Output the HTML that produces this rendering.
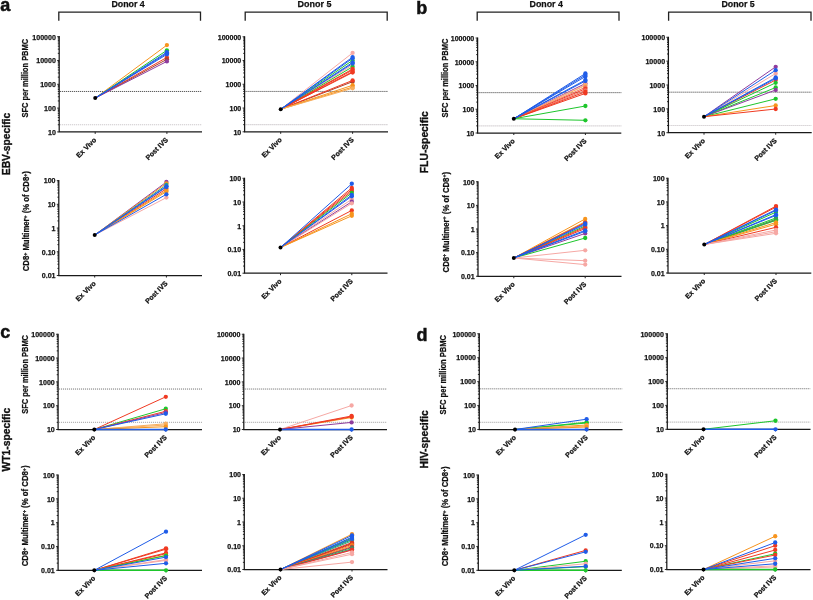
<!DOCTYPE html><html><head><meta charset="utf-8"><style>
html,body{margin:0;padding:0;background:#fff;width:813px;height:600px;overflow:hidden}
svg{display:block} text{font-family:"Liberation Sans", Arial, Helvetica, sans-serif;font-weight:bold;fill:#111;stroke:#111;stroke-width:0.25px}
.tl{font-size:8.1px;text-anchor:end}
.cl{font-size:7.0px;text-anchor:end}
.yl{font-size:8.2px;text-anchor:middle}
.hd{font-size:9.8px;text-anchor:middle}
.pl{font-size:18px;stroke-width:0.5px}
.rl{font-size:11px;text-anchor:middle;stroke-width:0.35px}
</style></head><body>
<svg width="813" height="600" viewBox="0 0 813 600">
<line x1="60.2" y1="91.46" x2="202" y2="91.46" stroke="#333" stroke-width="1" stroke-dasharray="1 1"/>
<line x1="60.2" y1="124.74" x2="202" y2="124.74" stroke="#c2bcc0" stroke-width="1.2" stroke-dasharray="1 1"/>
<path d="M59.2 36.1V131.9H202" fill="none" stroke="#1a1a1a" stroke-width="1.25"/>
<path d="M57.2 36.7H59.2M57.8 53.34H59.2M57.8 49.14H59.2M57.8 46.17H59.2M57.8 43.86H59.2M57.8 41.98H59.2M57.8 40.39H59.2M57.8 39.01H59.2M57.8 37.79H59.2M57.2 60.5H59.2M57.8 77.14H59.2M57.8 72.94H59.2M57.8 69.97H59.2M57.8 67.66H59.2M57.8 65.78H59.2M57.8 64.19H59.2M57.8 62.81H59.2M57.8 61.59H59.2M57.2 84.3H59.2M57.8 100.94H59.2M57.8 96.74H59.2M57.8 93.77H59.2M57.8 91.46H59.2M57.8 89.58H59.2M57.8 87.99H59.2M57.8 86.61H59.2M57.8 85.39H59.2M57.2 108.1H59.2M57.8 124.74H59.2M57.8 120.54H59.2M57.8 117.57H59.2M57.8 115.26H59.2M57.8 113.38H59.2M57.8 111.79H59.2M57.8 110.41H59.2M57.8 109.19H59.2M57.2 131.9H59.2" stroke="#111" stroke-width="0.9"/>
<path d="M95.2 131.9v2M166.9 131.9v2" stroke="#222" stroke-width="1"/>
<line x1="95.2" y1="98.1" x2="166.9" y2="45.1" stroke="#F7941D" stroke-width="1"/>
<line x1="95.2" y1="98.1" x2="166.9" y2="50.3" stroke="#1EC62C" stroke-width="1"/>
<line x1="95.2" y1="98.1" x2="166.9" y2="57.4" stroke="#F03A22" stroke-width="1"/>
<line x1="95.2" y1="98.1" x2="166.9" y2="59.3" stroke="#A8402C" stroke-width="1"/>
<line x1="95.2" y1="98.1" x2="166.9" y2="61.4" stroke="#8E3C9E" stroke-width="1"/>
<line x1="95.2" y1="98.1" x2="166.9" y2="52.2" stroke="#1F5CE8" stroke-width="1"/>
<line x1="95.2" y1="98.1" x2="166.9" y2="53.3" stroke="#1F5CE8" stroke-width="1"/>
<line x1="95.2" y1="98.1" x2="166.9" y2="54.4" stroke="#1F5CE8" stroke-width="1"/>
<circle cx="166.9" cy="45.1" r="2.15" fill="#F7941D"/>
<circle cx="166.9" cy="50.3" r="2.15" fill="#1EC62C"/>
<circle cx="166.9" cy="57.4" r="2.15" fill="#F03A22"/>
<circle cx="166.9" cy="59.3" r="2.15" fill="#A8402C"/>
<circle cx="166.9" cy="61.4" r="2.15" fill="#8E3C9E"/>
<circle cx="166.9" cy="52.2" r="2.15" fill="#1F5CE8"/>
<circle cx="166.9" cy="53.3" r="2.15" fill="#1F5CE8"/>
<circle cx="166.9" cy="54.4" r="2.15" fill="#1F5CE8"/>
<circle cx="95.2" cy="98.1" r="2.0" fill="#000"/>
<text x="55.9" y="39.5" class="tl" textLength="23.58" lengthAdjust="spacingAndGlyphs">100000</text>
<text x="55.9" y="63.3" class="tl" textLength="19.65" lengthAdjust="spacingAndGlyphs">10000</text>
<text x="55.9" y="87.1" class="tl" textLength="15.72" lengthAdjust="spacingAndGlyphs">1000</text>
<text x="55.9" y="110.9" class="tl" textLength="11.79" lengthAdjust="spacingAndGlyphs">100</text>
<text x="55.9" y="134.7" class="tl" textLength="7.86" lengthAdjust="spacingAndGlyphs">10</text>
<text transform="translate(96.8 140.4) rotate(-45)" class="cl">Ex Vivo</text>
<text transform="translate(168.5 140.4) rotate(-45)" class="cl">Post IVS</text>
<line x1="245.6" y1="91.43" x2="388" y2="91.43" stroke="#333" stroke-width="1" stroke-dasharray="1 1"/>
<line x1="245.6" y1="124.65" x2="388" y2="124.65" stroke="#c2bcc0" stroke-width="1.2" stroke-dasharray="1 1"/>
<path d="M244.6 36.15V131.8H388" fill="none" stroke="#1a1a1a" stroke-width="1.25"/>
<path d="M242.6 36.75H244.6M243.2 53.36H244.6M243.2 49.17H244.6M243.2 46.21H244.6M243.2 43.9H244.6M243.2 42.02H244.6M243.2 40.43H244.6M243.2 39.05H244.6M243.2 37.84H244.6M242.6 60.51H244.6M243.2 77.12H244.6M243.2 72.94H244.6M243.2 69.97H244.6M243.2 67.67H244.6M243.2 65.78H244.6M243.2 64.19H244.6M243.2 62.82H244.6M243.2 61.6H244.6M242.6 84.28H244.6M243.2 100.88H244.6M243.2 96.7H244.6M243.2 93.73H244.6M243.2 91.43H244.6M243.2 89.55H244.6M243.2 87.96H244.6M243.2 86.58H244.6M243.2 85.36H244.6M242.6 108.04H244.6M243.2 124.65H244.6M243.2 120.46H244.6M243.2 117.49H244.6M243.2 115.19H244.6M243.2 113.31H244.6M243.2 111.72H244.6M243.2 110.34H244.6M243.2 109.12H244.6M242.6 131.8H244.6" stroke="#111" stroke-width="0.9"/>
<path d="M280.7 131.8v2M352.6 131.8v2" stroke="#222" stroke-width="1"/>
<line x1="280.7" y1="109.25" x2="352.6" y2="52.9" stroke="#F6A8A4" stroke-width="1"/>
<line x1="280.7" y1="109.25" x2="352.6" y2="60.4" stroke="#1EC62C" stroke-width="1"/>
<line x1="280.7" y1="109.25" x2="352.6" y2="65" stroke="#F6A8A4" stroke-width="1"/>
<line x1="280.7" y1="109.25" x2="352.6" y2="66.8" stroke="#1EC62C" stroke-width="1"/>
<line x1="280.7" y1="109.25" x2="352.6" y2="69" stroke="#F03A22" stroke-width="1"/>
<line x1="280.7" y1="109.25" x2="352.6" y2="70" stroke="#F03A22" stroke-width="1"/>
<line x1="280.7" y1="109.25" x2="352.6" y2="71.7" stroke="#F03A22" stroke-width="1"/>
<line x1="280.7" y1="109.25" x2="352.6" y2="72.5" stroke="#F03A22" stroke-width="1"/>
<line x1="280.7" y1="109.25" x2="352.6" y2="81.7" stroke="#A8402C" stroke-width="1"/>
<line x1="280.7" y1="109.25" x2="352.6" y2="80.4" stroke="#F03A22" stroke-width="1"/>
<line x1="280.7" y1="109.25" x2="352.6" y2="85.25" stroke="#F7941D" stroke-width="1"/>
<line x1="280.7" y1="109.25" x2="352.6" y2="87.1" stroke="#F7941D" stroke-width="1"/>
<line x1="280.7" y1="109.25" x2="352.6" y2="88.3" stroke="#F8AE5E" stroke-width="1"/>
<line x1="280.7" y1="109.25" x2="352.6" y2="57.1" stroke="#1F5CE8" stroke-width="1"/>
<line x1="280.7" y1="109.25" x2="352.6" y2="58.3" stroke="#1F5CE8" stroke-width="1"/>
<line x1="280.7" y1="109.25" x2="352.6" y2="62.5" stroke="#1F5CE8" stroke-width="1"/>
<line x1="280.7" y1="109.25" x2="352.6" y2="63.5" stroke="#1F5CE8" stroke-width="1"/>
<circle cx="352.6" cy="52.9" r="2.15" fill="#F6A8A4"/>
<circle cx="352.6" cy="60.4" r="2.15" fill="#1EC62C"/>
<circle cx="352.6" cy="65" r="2.15" fill="#F6A8A4"/>
<circle cx="352.6" cy="66.8" r="2.15" fill="#1EC62C"/>
<circle cx="352.6" cy="69" r="2.15" fill="#F03A22"/>
<circle cx="352.6" cy="70" r="2.15" fill="#F03A22"/>
<circle cx="352.6" cy="71.7" r="2.15" fill="#F03A22"/>
<circle cx="352.6" cy="72.5" r="2.15" fill="#F03A22"/>
<circle cx="352.6" cy="81.7" r="2.15" fill="#A8402C"/>
<circle cx="352.6" cy="80.4" r="2.15" fill="#F03A22"/>
<circle cx="352.6" cy="85.25" r="2.15" fill="#F7941D"/>
<circle cx="352.6" cy="87.1" r="2.15" fill="#F7941D"/>
<circle cx="352.6" cy="88.3" r="2.15" fill="#F8AE5E"/>
<circle cx="352.6" cy="57.1" r="2.15" fill="#1F5CE8"/>
<circle cx="352.6" cy="58.3" r="2.15" fill="#1F5CE8"/>
<circle cx="352.6" cy="62.5" r="2.15" fill="#1F5CE8"/>
<circle cx="352.6" cy="63.5" r="2.15" fill="#1F5CE8"/>
<circle cx="280.7" cy="109.25" r="2.0" fill="#000"/>
<text x="241.3" y="39.55" class="tl" textLength="23.58" lengthAdjust="spacingAndGlyphs">100000</text>
<text x="241.3" y="63.31" class="tl" textLength="19.65" lengthAdjust="spacingAndGlyphs">10000</text>
<text x="241.3" y="87.08" class="tl" textLength="15.72" lengthAdjust="spacingAndGlyphs">1000</text>
<text x="241.3" y="110.84" class="tl" textLength="11.79" lengthAdjust="spacingAndGlyphs">100</text>
<text x="241.3" y="134.6" class="tl" textLength="7.86" lengthAdjust="spacingAndGlyphs">10</text>
<text transform="translate(282.3 140.3) rotate(-45)" class="cl">Ex Vivo</text>
<text transform="translate(354.2 140.3) rotate(-45)" class="cl">Post IVS</text>
<line x1="478.6" y1="92.65" x2="621.3" y2="92.65" stroke="#333" stroke-width="1" stroke-dasharray="1 1"/>
<line x1="478.6" y1="125.85" x2="621.3" y2="125.85" stroke="#c2bcc0" stroke-width="1.2" stroke-dasharray="1 1"/>
<path d="M477.6 37.4V133H621.3" fill="none" stroke="#1a1a1a" stroke-width="1.25"/>
<path d="M475.6 38H477.6M476.2 54.6H477.6M476.2 50.42H477.6M476.2 47.45H477.6M476.2 45.15H477.6M476.2 43.27H477.6M476.2 41.68H477.6M476.2 40.3H477.6M476.2 39.09H477.6M475.6 61.75H477.6M476.2 78.35H477.6M476.2 74.17H477.6M476.2 71.2H477.6M476.2 68.9H477.6M476.2 67.02H477.6M476.2 65.43H477.6M476.2 64.05H477.6M476.2 62.84H477.6M475.6 85.5H477.6M476.2 102.1H477.6M476.2 97.92H477.6M476.2 94.95H477.6M476.2 92.65H477.6M476.2 90.77H477.6M476.2 89.18H477.6M476.2 87.8H477.6M476.2 86.59H477.6M475.6 109.25H477.6M476.2 125.85H477.6M476.2 121.67H477.6M476.2 118.7H477.6M476.2 116.4H477.6M476.2 114.52H477.6M476.2 112.93H477.6M476.2 111.55H477.6M476.2 110.34H477.6M475.6 133H477.6" stroke="#111" stroke-width="0.9"/>
<path d="M513.8 133v2M585.4 133v2" stroke="#222" stroke-width="1"/>
<line x1="513.8" y1="118.75" x2="585.4" y2="83.5" stroke="#8E3C9E" stroke-width="1"/>
<line x1="513.8" y1="118.75" x2="585.4" y2="84.5" stroke="#F6A8A4" stroke-width="1"/>
<line x1="513.8" y1="118.75" x2="585.4" y2="85.5" stroke="#F8AE5E" stroke-width="1"/>
<line x1="513.8" y1="118.75" x2="585.4" y2="87.3" stroke="#F4735E" stroke-width="1"/>
<line x1="513.8" y1="118.75" x2="585.4" y2="88.8" stroke="#F03A22" stroke-width="1"/>
<line x1="513.8" y1="118.75" x2="585.4" y2="90.3" stroke="#F4735E" stroke-width="1"/>
<line x1="513.8" y1="118.75" x2="585.4" y2="91.8" stroke="#F03A22" stroke-width="1"/>
<line x1="513.8" y1="118.75" x2="585.4" y2="93.4" stroke="#F03A22" stroke-width="1"/>
<line x1="513.8" y1="118.75" x2="585.4" y2="106" stroke="#1EC62C" stroke-width="1"/>
<line x1="513.8" y1="118.75" x2="585.4" y2="120.3" stroke="#1EC62C" stroke-width="1"/>
<line x1="513.8" y1="118.75" x2="585.4" y2="73.5" stroke="#1F5CE8" stroke-width="1"/>
<line x1="513.8" y1="118.75" x2="585.4" y2="75" stroke="#1F5CE8" stroke-width="1"/>
<line x1="513.8" y1="118.75" x2="585.4" y2="76.5" stroke="#1F5CE8" stroke-width="1"/>
<line x1="513.8" y1="118.75" x2="585.4" y2="80" stroke="#1F5CE8" stroke-width="1"/>
<line x1="513.8" y1="118.75" x2="585.4" y2="81" stroke="#1F5CE8" stroke-width="1"/>
<circle cx="585.4" cy="83.5" r="2.15" fill="#8E3C9E"/>
<circle cx="585.4" cy="84.5" r="2.15" fill="#F6A8A4"/>
<circle cx="585.4" cy="85.5" r="2.15" fill="#F8AE5E"/>
<circle cx="585.4" cy="87.3" r="2.15" fill="#F4735E"/>
<circle cx="585.4" cy="88.8" r="2.15" fill="#F03A22"/>
<circle cx="585.4" cy="90.3" r="2.15" fill="#F4735E"/>
<circle cx="585.4" cy="91.8" r="2.15" fill="#F03A22"/>
<circle cx="585.4" cy="93.4" r="2.15" fill="#F03A22"/>
<circle cx="585.4" cy="106" r="2.15" fill="#1EC62C"/>
<circle cx="585.4" cy="120.3" r="2.15" fill="#1EC62C"/>
<circle cx="585.4" cy="73.5" r="2.15" fill="#1F5CE8"/>
<circle cx="585.4" cy="75" r="2.15" fill="#1F5CE8"/>
<circle cx="585.4" cy="76.5" r="2.15" fill="#1F5CE8"/>
<circle cx="585.4" cy="80" r="2.15" fill="#1F5CE8"/>
<circle cx="585.4" cy="81" r="2.15" fill="#1F5CE8"/>
<circle cx="513.8" cy="118.75" r="2.0" fill="#000"/>
<text x="474.3" y="40.8" class="tl" textLength="23.58" lengthAdjust="spacingAndGlyphs">100000</text>
<text x="474.3" y="64.55" class="tl" textLength="19.65" lengthAdjust="spacingAndGlyphs">10000</text>
<text x="474.3" y="88.3" class="tl" textLength="15.72" lengthAdjust="spacingAndGlyphs">1000</text>
<text x="474.3" y="112.05" class="tl" textLength="11.79" lengthAdjust="spacingAndGlyphs">100</text>
<text x="474.3" y="135.8" class="tl" textLength="7.86" lengthAdjust="spacingAndGlyphs">10</text>
<text transform="translate(515.4 141.5) rotate(-45)" class="cl">Ex Vivo</text>
<text transform="translate(587 141.5) rotate(-45)" class="cl">Post IVS</text>
<line x1="669.4" y1="92.18" x2="811.7" y2="92.18" stroke="#333" stroke-width="1" stroke-dasharray="1 1"/>
<line x1="669.4" y1="125.52" x2="811.7" y2="125.52" stroke="#c2bcc0" stroke-width="1.2" stroke-dasharray="1 1"/>
<path d="M668.4 36.7V132.7H811.7" fill="none" stroke="#1a1a1a" stroke-width="1.25"/>
<path d="M666.4 37.3H668.4M667 53.97H668.4M667 49.77H668.4M667 46.79H668.4M667 44.48H668.4M667 42.59H668.4M667 40.99H668.4M667 39.61H668.4M667 38.39H668.4M666.4 61.15H668.4M667 77.82H668.4M667 73.62H668.4M667 70.64H668.4M667 68.33H668.4M667 66.44H668.4M667 64.84H668.4M667 63.46H668.4M667 62.24H668.4M666.4 85H668.4M667 101.67H668.4M667 97.47H668.4M667 94.49H668.4M667 92.18H668.4M667 90.29H668.4M667 88.69H668.4M667 87.31H668.4M667 86.09H668.4M666.4 108.85H668.4M667 125.52H668.4M667 121.32H668.4M667 118.34H668.4M667 116.03H668.4M667 114.14H668.4M667 112.54H668.4M667 111.16H668.4M667 109.94H668.4M666.4 132.7H668.4" stroke="#111" stroke-width="0.9"/>
<path d="M704 132.7v2M775.7 132.7v2" stroke="#222" stroke-width="1"/>
<line x1="704" y1="116.7" x2="775.7" y2="66.8" stroke="#8E3C9E" stroke-width="1"/>
<line x1="704" y1="116.7" x2="775.7" y2="73.5" stroke="#F6A8A4" stroke-width="1"/>
<line x1="704" y1="116.7" x2="775.7" y2="80" stroke="#F03A22" stroke-width="1"/>
<line x1="704" y1="116.7" x2="775.7" y2="82.8" stroke="#1EC62C" stroke-width="1"/>
<line x1="704" y1="116.7" x2="775.7" y2="87.5" stroke="#1EC62C" stroke-width="1"/>
<line x1="704" y1="116.7" x2="775.7" y2="90" stroke="#8E3C9E" stroke-width="1"/>
<line x1="704" y1="116.7" x2="775.7" y2="98.8" stroke="#1EC62C" stroke-width="1"/>
<line x1="704" y1="116.7" x2="775.7" y2="105.5" stroke="#F7941D" stroke-width="1"/>
<line x1="704" y1="116.7" x2="775.7" y2="109" stroke="#F03A22" stroke-width="1"/>
<line x1="704" y1="116.7" x2="775.7" y2="70.2" stroke="#1F5CE8" stroke-width="1"/>
<line x1="704" y1="116.7" x2="775.7" y2="77.5" stroke="#1F5CE8" stroke-width="1"/>
<line x1="704" y1="116.7" x2="775.7" y2="78.5" stroke="#1F5CE8" stroke-width="1"/>
<circle cx="775.7" cy="66.8" r="2.15" fill="#8E3C9E"/>
<circle cx="775.7" cy="73.5" r="2.15" fill="#F6A8A4"/>
<circle cx="775.7" cy="80" r="2.15" fill="#F03A22"/>
<circle cx="775.7" cy="82.8" r="2.15" fill="#1EC62C"/>
<circle cx="775.7" cy="87.5" r="2.15" fill="#1EC62C"/>
<circle cx="775.7" cy="90" r="2.15" fill="#8E3C9E"/>
<circle cx="775.7" cy="98.8" r="2.15" fill="#1EC62C"/>
<circle cx="775.7" cy="105.5" r="2.15" fill="#F7941D"/>
<circle cx="775.7" cy="109" r="2.15" fill="#F03A22"/>
<circle cx="775.7" cy="70.2" r="2.15" fill="#1F5CE8"/>
<circle cx="775.7" cy="77.5" r="2.15" fill="#1F5CE8"/>
<circle cx="775.7" cy="78.5" r="2.15" fill="#1F5CE8"/>
<circle cx="704" cy="116.7" r="2.0" fill="#000"/>
<text x="665.1" y="40.1" class="tl" textLength="23.58" lengthAdjust="spacingAndGlyphs">100000</text>
<text x="665.1" y="63.95" class="tl" textLength="19.65" lengthAdjust="spacingAndGlyphs">10000</text>
<text x="665.1" y="87.8" class="tl" textLength="15.72" lengthAdjust="spacingAndGlyphs">1000</text>
<text x="665.1" y="111.65" class="tl" textLength="11.79" lengthAdjust="spacingAndGlyphs">100</text>
<text x="665.1" y="135.5" class="tl" textLength="7.86" lengthAdjust="spacingAndGlyphs">10</text>
<text transform="translate(705.6 141.2) rotate(-45)" class="cl">Ex Vivo</text>
<text transform="translate(777.3 141.2) rotate(-45)" class="cl">Post IVS</text>
<path d="M58.8 180V275.5H202" fill="none" stroke="#1a1a1a" stroke-width="1.25"/>
<path d="M56.8 180.6H58.8M57.4 197.18H58.8M57.4 193.01H58.8M57.4 190.04H58.8M57.4 187.74H58.8M57.4 185.86H58.8M57.4 184.28H58.8M57.4 182.9H58.8M57.4 181.69H58.8M56.8 204.32H58.8M57.4 220.91H58.8M57.4 216.73H58.8M57.4 213.77H58.8M57.4 211.47H58.8M57.4 209.59H58.8M57.4 208H58.8M57.4 206.62H58.8M57.4 205.41H58.8M56.8 228.05H58.8M57.4 244.63H58.8M57.4 240.46H58.8M57.4 237.49H58.8M57.4 235.19H58.8M57.4 233.31H58.8M57.4 231.73H58.8M57.4 230.35H58.8M57.4 229.14H58.8M56.8 251.78H58.8M57.4 268.36H58.8M57.4 264.18H58.8M57.4 261.22H58.8M57.4 258.92H58.8M57.4 257.04H58.8M57.4 255.45H58.8M57.4 254.07H58.8M57.4 252.86H58.8M56.8 275.5H58.8" stroke="#111" stroke-width="0.9"/>
<path d="M94.7 275.5v2M166.4 275.5v2" stroke="#222" stroke-width="1"/>
<line x1="94.7" y1="235" x2="166.4" y2="182" stroke="#8E3C9E" stroke-width="1"/>
<line x1="94.7" y1="235" x2="166.4" y2="183.3" stroke="#F7941D" stroke-width="1"/>
<line x1="94.7" y1="235" x2="166.4" y2="185" stroke="#2A9D8F" stroke-width="1"/>
<line x1="94.7" y1="235" x2="166.4" y2="188.8" stroke="#F03A22" stroke-width="1"/>
<line x1="94.7" y1="235" x2="166.4" y2="190.4" stroke="#F7941D" stroke-width="1"/>
<line x1="94.7" y1="235" x2="166.4" y2="191.7" stroke="#F7941D" stroke-width="1"/>
<line x1="94.7" y1="235" x2="166.4" y2="197.6" stroke="#F6A8A4" stroke-width="1"/>
<line x1="94.7" y1="235" x2="166.4" y2="186.3" stroke="#1F5CE8" stroke-width="1"/>
<line x1="94.7" y1="235" x2="166.4" y2="187.1" stroke="#1F5CE8" stroke-width="1"/>
<line x1="94.7" y1="235" x2="166.4" y2="194.3" stroke="#1F5CE8" stroke-width="1"/>
<circle cx="166.4" cy="182" r="2.15" fill="#8E3C9E"/>
<circle cx="166.4" cy="183.3" r="2.15" fill="#F7941D"/>
<circle cx="166.4" cy="185" r="2.15" fill="#2A9D8F"/>
<circle cx="166.4" cy="188.8" r="2.15" fill="#F03A22"/>
<circle cx="166.4" cy="190.4" r="2.15" fill="#F7941D"/>
<circle cx="166.4" cy="191.7" r="2.15" fill="#F7941D"/>
<circle cx="166.4" cy="197.6" r="2.15" fill="#F6A8A4"/>
<circle cx="166.4" cy="186.3" r="2.15" fill="#1F5CE8"/>
<circle cx="166.4" cy="187.1" r="2.15" fill="#1F5CE8"/>
<circle cx="166.4" cy="194.3" r="2.15" fill="#1F5CE8"/>
<circle cx="94.7" cy="235" r="2.0" fill="#000"/>
<text x="55.5" y="183.4" class="tl" textLength="11.79" lengthAdjust="spacingAndGlyphs">100</text>
<text x="55.5" y="207.12" class="tl" textLength="7.86" lengthAdjust="spacingAndGlyphs">10</text>
<text x="55.5" y="230.85" class="tl" textLength="3.93" lengthAdjust="spacingAndGlyphs">1</text>
<text x="55.5" y="254.58" class="tl" textLength="13.76" lengthAdjust="spacingAndGlyphs">0.10</text>
<text x="55.5" y="278.3" class="tl" textLength="13.76" lengthAdjust="spacingAndGlyphs">0.01</text>
<text transform="translate(96.3 284) rotate(-45)" class="cl">Ex Vivo</text>
<text transform="translate(168 284) rotate(-45)" class="cl">Post IVS</text>
<path d="M244.5 177.7V273.2H387.5" fill="none" stroke="#1a1a1a" stroke-width="1.25"/>
<path d="M242.5 178.3H244.5M243.1 194.88H244.5M243.1 190.71H244.5M243.1 187.74H244.5M243.1 185.44H244.5M243.1 183.56H244.5M243.1 181.98H244.5M243.1 180.6H244.5M243.1 179.39H244.5M242.5 202.03H244.5M243.1 218.61H244.5M243.1 214.43H244.5M243.1 211.47H244.5M243.1 209.17H244.5M243.1 207.29H244.5M243.1 205.7H244.5M243.1 204.32H244.5M243.1 203.11H244.5M242.5 225.75H244.5M243.1 242.33H244.5M243.1 238.16H244.5M243.1 235.19H244.5M243.1 232.89H244.5M243.1 231.01H244.5M243.1 229.43H244.5M243.1 228.05H244.5M243.1 226.84H244.5M242.5 249.47H244.5M243.1 266.06H244.5M243.1 261.88H244.5M243.1 258.92H244.5M243.1 256.62H244.5M243.1 254.74H244.5M243.1 253.15H244.5M243.1 251.77H244.5M243.1 250.56H244.5M242.5 273.2H244.5" stroke="#111" stroke-width="0.9"/>
<path d="M280.5 273.2v2M351.8 273.2v2" stroke="#222" stroke-width="1"/>
<line x1="280.5" y1="247.5" x2="351.8" y2="187.9" stroke="#F03A22" stroke-width="1"/>
<line x1="280.5" y1="247.5" x2="351.8" y2="189.6" stroke="#F03A22" stroke-width="1"/>
<line x1="280.5" y1="247.5" x2="351.8" y2="191.25" stroke="#F03A22" stroke-width="1"/>
<line x1="280.5" y1="247.5" x2="351.8" y2="192.9" stroke="#1EC62C" stroke-width="1"/>
<line x1="280.5" y1="247.5" x2="351.8" y2="199.2" stroke="#F6A8A4" stroke-width="1"/>
<line x1="280.5" y1="247.5" x2="351.8" y2="201.7" stroke="#8E3C9E" stroke-width="1"/>
<line x1="280.5" y1="247.5" x2="351.8" y2="203.3" stroke="#F6A8A4" stroke-width="1"/>
<line x1="280.5" y1="247.5" x2="351.8" y2="210.4" stroke="#F03A22" stroke-width="1"/>
<line x1="280.5" y1="247.5" x2="351.8" y2="213.75" stroke="#F7941D" stroke-width="1"/>
<line x1="280.5" y1="247.5" x2="351.8" y2="215.8" stroke="#F7941D" stroke-width="1"/>
<line x1="280.5" y1="247.5" x2="351.8" y2="183.75" stroke="#1F5CE8" stroke-width="1"/>
<line x1="280.5" y1="247.5" x2="351.8" y2="195" stroke="#1F5CE8" stroke-width="1"/>
<line x1="280.5" y1="247.5" x2="351.8" y2="196.25" stroke="#1F5CE8" stroke-width="1"/>
<circle cx="351.8" cy="187.9" r="2.15" fill="#F03A22"/>
<circle cx="351.8" cy="189.6" r="2.15" fill="#F03A22"/>
<circle cx="351.8" cy="191.25" r="2.15" fill="#F03A22"/>
<circle cx="351.8" cy="192.9" r="2.15" fill="#1EC62C"/>
<circle cx="351.8" cy="199.2" r="2.15" fill="#F6A8A4"/>
<circle cx="351.8" cy="201.7" r="2.15" fill="#8E3C9E"/>
<circle cx="351.8" cy="203.3" r="2.15" fill="#F6A8A4"/>
<circle cx="351.8" cy="210.4" r="2.15" fill="#F03A22"/>
<circle cx="351.8" cy="213.75" r="2.15" fill="#F7941D"/>
<circle cx="351.8" cy="215.8" r="2.15" fill="#F7941D"/>
<circle cx="351.8" cy="183.75" r="2.15" fill="#1F5CE8"/>
<circle cx="351.8" cy="195" r="2.15" fill="#1F5CE8"/>
<circle cx="351.8" cy="196.25" r="2.15" fill="#1F5CE8"/>
<circle cx="280.5" cy="247.5" r="2.0" fill="#000"/>
<text x="241.2" y="181.1" class="tl" textLength="11.79" lengthAdjust="spacingAndGlyphs">100</text>
<text x="241.2" y="204.83" class="tl" textLength="7.86" lengthAdjust="spacingAndGlyphs">10</text>
<text x="241.2" y="228.55" class="tl" textLength="3.93" lengthAdjust="spacingAndGlyphs">1</text>
<text x="241.2" y="252.28" class="tl" textLength="13.76" lengthAdjust="spacingAndGlyphs">0.10</text>
<text x="241.2" y="276" class="tl" textLength="13.76" lengthAdjust="spacingAndGlyphs">0.01</text>
<text transform="translate(282.1 281.7) rotate(-45)" class="cl">Ex Vivo</text>
<text transform="translate(353.4 281.7) rotate(-45)" class="cl">Post IVS</text>
<path d="M478 181.15V276.25H621.5" fill="none" stroke="#1a1a1a" stroke-width="1.25"/>
<path d="M476 181.75H478M476.6 198.26H478M476.6 194.1H478M476.6 191.15H478M476.6 188.86H478M476.6 186.99H478M476.6 185.41H478M476.6 184.04H478M476.6 182.83H478M476 205.38H478M476.6 221.89H478M476.6 217.73H478M476.6 214.78H478M476.6 212.49H478M476.6 210.62H478M476.6 209.03H478M476.6 207.66H478M476.6 206.46H478M476 229H478M476.6 245.51H478M476.6 241.35H478M476.6 238.4H478M476.6 236.11H478M476.6 234.24H478M476.6 232.66H478M476.6 231.29H478M476.6 230.08H478M476 252.62H478M476.6 269.14H478M476.6 264.98H478M476.6 262.03H478M476.6 259.74H478M476.6 257.87H478M476.6 256.28H478M476.6 254.91H478M476.6 253.71H478M476 276.25H478" stroke="#111" stroke-width="0.9"/>
<path d="M513.8 276.25v2M585.2 276.25v2" stroke="#222" stroke-width="1"/>
<line x1="513.8" y1="258" x2="585.2" y2="218.9" stroke="#F7941D" stroke-width="1"/>
<line x1="513.8" y1="258" x2="585.2" y2="221.8" stroke="#F7941D" stroke-width="1"/>
<line x1="513.8" y1="258" x2="585.2" y2="222.6" stroke="#F03A22" stroke-width="1"/>
<line x1="513.8" y1="258" x2="585.2" y2="226" stroke="#1EC62C" stroke-width="1"/>
<line x1="513.8" y1="258" x2="585.2" y2="227.2" stroke="#F03A22" stroke-width="1"/>
<line x1="513.8" y1="258" x2="585.2" y2="228.5" stroke="#F03A22" stroke-width="1"/>
<line x1="513.8" y1="258" x2="585.2" y2="233.4" stroke="#8E3C9E" stroke-width="1"/>
<line x1="513.8" y1="258" x2="585.2" y2="238" stroke="#1EC62C" stroke-width="1"/>
<line x1="513.8" y1="258" x2="585.2" y2="250.3" stroke="#F6A8A4" stroke-width="1"/>
<line x1="513.8" y1="258" x2="585.2" y2="260.7" stroke="#F6A8A4" stroke-width="1"/>
<line x1="513.8" y1="258" x2="585.2" y2="264.6" stroke="#F6A8A4" stroke-width="1"/>
<line x1="513.8" y1="258" x2="585.2" y2="223.5" stroke="#1F5CE8" stroke-width="1"/>
<line x1="513.8" y1="258" x2="585.2" y2="224.6" stroke="#1F5CE8" stroke-width="1"/>
<line x1="513.8" y1="258" x2="585.2" y2="230.3" stroke="#1F5CE8" stroke-width="1"/>
<line x1="513.8" y1="258" x2="585.2" y2="231.3" stroke="#1F5CE8" stroke-width="1"/>
<circle cx="585.2" cy="218.9" r="2.15" fill="#F7941D"/>
<circle cx="585.2" cy="221.8" r="2.15" fill="#F7941D"/>
<circle cx="585.2" cy="222.6" r="2.15" fill="#F03A22"/>
<circle cx="585.2" cy="226" r="2.15" fill="#1EC62C"/>
<circle cx="585.2" cy="227.2" r="2.15" fill="#F03A22"/>
<circle cx="585.2" cy="228.5" r="2.15" fill="#F03A22"/>
<circle cx="585.2" cy="233.4" r="2.15" fill="#8E3C9E"/>
<circle cx="585.2" cy="238" r="2.15" fill="#1EC62C"/>
<circle cx="585.2" cy="250.3" r="2.15" fill="#F6A8A4"/>
<circle cx="585.2" cy="260.7" r="2.15" fill="#F6A8A4"/>
<circle cx="585.2" cy="264.6" r="2.15" fill="#F6A8A4"/>
<circle cx="585.2" cy="223.5" r="2.15" fill="#1F5CE8"/>
<circle cx="585.2" cy="224.6" r="2.15" fill="#1F5CE8"/>
<circle cx="585.2" cy="230.3" r="2.15" fill="#1F5CE8"/>
<circle cx="585.2" cy="231.3" r="2.15" fill="#1F5CE8"/>
<circle cx="513.8" cy="258" r="2.0" fill="#000"/>
<text x="474.7" y="184.55" class="tl" textLength="11.79" lengthAdjust="spacingAndGlyphs">100</text>
<text x="474.7" y="208.18" class="tl" textLength="7.86" lengthAdjust="spacingAndGlyphs">10</text>
<text x="474.7" y="231.8" class="tl" textLength="3.93" lengthAdjust="spacingAndGlyphs">1</text>
<text x="474.7" y="255.43" class="tl" textLength="13.76" lengthAdjust="spacingAndGlyphs">0.10</text>
<text x="474.7" y="279.05" class="tl" textLength="13.76" lengthAdjust="spacingAndGlyphs">0.01</text>
<text transform="translate(515.4 284.75) rotate(-45)" class="cl">Ex Vivo</text>
<text transform="translate(586.8 284.75) rotate(-45)" class="cl">Post IVS</text>
<path d="M668 177.65V273H811.3" fill="none" stroke="#1a1a1a" stroke-width="1.25"/>
<path d="M666 178.25H668M666.6 194.81H668M666.6 190.64H668M666.6 187.68H668M666.6 185.38H668M666.6 183.51H668M666.6 181.92H668M666.6 180.55H668M666.6 179.33H668M666 201.94H668M666.6 218.49H668M666.6 214.32H668M666.6 211.36H668M666.6 209.07H668M666.6 207.19H668M666.6 205.61H668M666.6 204.23H668M666.6 203.02H668M666 225.62H668M666.6 242.18H668M666.6 238.01H668M666.6 235.05H668M666.6 232.76H668M666.6 230.88H668M666.6 229.29H668M666.6 227.92H668M666.6 226.71H668M666 249.31H668M666.6 265.87H668M666.6 261.7H668M666.6 258.74H668M666.6 256.44H668M666.6 254.57H668M666.6 252.98H668M666.6 251.61H668M666.6 250.4H668M666 273H668" stroke="#111" stroke-width="0.9"/>
<path d="M704.25 273v2M776 273v2" stroke="#222" stroke-width="1"/>
<line x1="704.25" y1="244.5" x2="776" y2="206.1" stroke="#F03A22" stroke-width="1"/>
<line x1="704.25" y1="244.5" x2="776" y2="207.1" stroke="#F03A22" stroke-width="1"/>
<line x1="704.25" y1="244.5" x2="776" y2="212.1" stroke="#1EC62C" stroke-width="1"/>
<line x1="704.25" y1="244.5" x2="776" y2="217.9" stroke="#1EC62C" stroke-width="1"/>
<line x1="704.25" y1="244.5" x2="776" y2="219.2" stroke="#1EC62C" stroke-width="1"/>
<line x1="704.25" y1="244.5" x2="776" y2="220" stroke="#8E3C9E" stroke-width="1"/>
<line x1="704.25" y1="244.5" x2="776" y2="220.4" stroke="#1EC62C" stroke-width="1"/>
<line x1="704.25" y1="244.5" x2="776" y2="222.5" stroke="#F7941D" stroke-width="1"/>
<line x1="704.25" y1="244.5" x2="776" y2="224.2" stroke="#F7941D" stroke-width="1"/>
<line x1="704.25" y1="244.5" x2="776" y2="227.3" stroke="#F03A22" stroke-width="1"/>
<line x1="704.25" y1="244.5" x2="776" y2="230" stroke="#F6A8A4" stroke-width="1"/>
<line x1="704.25" y1="244.5" x2="776" y2="231.7" stroke="#F6A8A4" stroke-width="1"/>
<line x1="704.25" y1="244.5" x2="776" y2="233.3" stroke="#F6A8A4" stroke-width="1"/>
<line x1="704.25" y1="244.5" x2="776" y2="209.6" stroke="#1F5CE8" stroke-width="1"/>
<line x1="704.25" y1="244.5" x2="776" y2="210.4" stroke="#1F5CE8" stroke-width="1"/>
<line x1="704.25" y1="244.5" x2="776" y2="214.6" stroke="#1F5CE8" stroke-width="1"/>
<line x1="704.25" y1="244.5" x2="776" y2="215.4" stroke="#1F5CE8" stroke-width="1"/>
<circle cx="776" cy="206.1" r="2.15" fill="#F03A22"/>
<circle cx="776" cy="207.1" r="2.15" fill="#F03A22"/>
<circle cx="776" cy="212.1" r="2.15" fill="#1EC62C"/>
<circle cx="776" cy="217.9" r="2.15" fill="#1EC62C"/>
<circle cx="776" cy="219.2" r="2.15" fill="#1EC62C"/>
<circle cx="776" cy="220" r="2.15" fill="#8E3C9E"/>
<circle cx="776" cy="220.4" r="2.15" fill="#1EC62C"/>
<circle cx="776" cy="222.5" r="2.15" fill="#F7941D"/>
<circle cx="776" cy="224.2" r="2.15" fill="#F7941D"/>
<circle cx="776" cy="227.3" r="2.15" fill="#F03A22"/>
<circle cx="776" cy="230" r="2.15" fill="#F6A8A4"/>
<circle cx="776" cy="231.7" r="2.15" fill="#F6A8A4"/>
<circle cx="776" cy="233.3" r="2.15" fill="#F6A8A4"/>
<circle cx="776" cy="209.6" r="2.15" fill="#1F5CE8"/>
<circle cx="776" cy="210.4" r="2.15" fill="#1F5CE8"/>
<circle cx="776" cy="214.6" r="2.15" fill="#1F5CE8"/>
<circle cx="776" cy="215.4" r="2.15" fill="#1F5CE8"/>
<circle cx="704.25" cy="244.5" r="2.0" fill="#000"/>
<text x="664.7" y="181.05" class="tl" textLength="11.79" lengthAdjust="spacingAndGlyphs">100</text>
<text x="664.7" y="204.74" class="tl" textLength="7.86" lengthAdjust="spacingAndGlyphs">10</text>
<text x="664.7" y="228.43" class="tl" textLength="3.93" lengthAdjust="spacingAndGlyphs">1</text>
<text x="664.7" y="252.11" class="tl" textLength="13.76" lengthAdjust="spacingAndGlyphs">0.10</text>
<text x="664.7" y="275.8" class="tl" textLength="13.76" lengthAdjust="spacingAndGlyphs">0.01</text>
<text transform="translate(705.85 281.5) rotate(-45)" class="cl">Ex Vivo</text>
<text transform="translate(777.6 281.5) rotate(-45)" class="cl">Post IVS</text>
<line x1="59.1" y1="389.04" x2="202" y2="389.04" stroke="#666" stroke-width="1" stroke-dasharray="1 1"/>
<line x1="59.1" y1="422.33" x2="202" y2="422.33" stroke="#b0b0b0" stroke-width="1.2" stroke-dasharray="1 1"/>
<path d="M58.1 333.65V429.5H202" fill="none" stroke="#1a1a1a" stroke-width="1.25"/>
<path d="M56.1 334.25H58.1M56.7 350.89H58.1M56.7 346.7H58.1M56.7 343.73H58.1M56.7 341.42H58.1M56.7 339.53H58.1M56.7 337.94H58.1M56.7 336.56H58.1M56.7 335.34H58.1M56.1 358.06H58.1M56.7 374.71H58.1M56.7 370.51H58.1M56.7 367.54H58.1M56.7 365.23H58.1M56.7 363.35H58.1M56.7 361.75H58.1M56.7 360.37H58.1M56.7 359.15H58.1M56.1 381.88H58.1M56.7 398.52H58.1M56.7 394.33H58.1M56.7 391.35H58.1M56.7 389.04H58.1M56.7 387.16H58.1M56.7 385.56H58.1M56.7 384.18H58.1M56.7 382.96H58.1M56.1 405.69H58.1M56.7 422.33H58.1M56.7 418.14H58.1M56.7 415.16H58.1M56.7 412.86H58.1M56.7 410.97H58.1M56.7 409.38H58.1M56.7 408H58.1M56.7 406.78H58.1M56.1 429.5H58.1" stroke="#111" stroke-width="0.9"/>
<path d="M94.3 429.5v2M165.8 429.5v2" stroke="#222" stroke-width="1"/>
<line x1="94.3" y1="429.5" x2="165.8" y2="396.8" stroke="#F03A22" stroke-width="1"/>
<line x1="94.3" y1="429.5" x2="165.8" y2="408.75" stroke="#1EC62C" stroke-width="1"/>
<line x1="94.3" y1="429.5" x2="165.8" y2="411.25" stroke="#F03A22" stroke-width="1"/>
<line x1="94.3" y1="429.5" x2="165.8" y2="412.5" stroke="#8E3C9E" stroke-width="1"/>
<line x1="94.3" y1="429.5" x2="165.8" y2="423.75" stroke="#F8AE5E" stroke-width="1"/>
<line x1="94.3" y1="429.5" x2="165.8" y2="425" stroke="#F8AE5E" stroke-width="1"/>
<line x1="94.3" y1="429.5" x2="165.8" y2="426.7" stroke="#F7941D" stroke-width="1"/>
<line x1="94.3" y1="429.5" x2="165.8" y2="413.75" stroke="#1F5CE8" stroke-width="1"/>
<line x1="94.3" y1="429.5" x2="165.8" y2="429.5" stroke="#1F5CE8" stroke-width="1.5"/>
<circle cx="165.8" cy="396.8" r="2.15" fill="#F03A22"/>
<circle cx="165.8" cy="408.75" r="2.15" fill="#1EC62C"/>
<circle cx="165.8" cy="411.25" r="2.15" fill="#F03A22"/>
<circle cx="165.8" cy="412.5" r="2.15" fill="#8E3C9E"/>
<circle cx="165.8" cy="423.75" r="2.15" fill="#F8AE5E"/>
<circle cx="165.8" cy="425" r="2.15" fill="#F8AE5E"/>
<circle cx="165.8" cy="426.7" r="2.15" fill="#F7941D"/>
<circle cx="165.8" cy="413.75" r="2.15" fill="#1F5CE8"/>
<circle cx="165.8" cy="429.5" r="2.15" fill="#1F5CE8"/>
<circle cx="94.3" cy="429.5" r="2.0" fill="#000"/>
<text x="54.8" y="337.05" class="tl" textLength="23.58" lengthAdjust="spacingAndGlyphs">100000</text>
<text x="54.8" y="360.86" class="tl" textLength="19.65" lengthAdjust="spacingAndGlyphs">10000</text>
<text x="54.8" y="384.68" class="tl" textLength="15.72" lengthAdjust="spacingAndGlyphs">1000</text>
<text x="54.8" y="408.49" class="tl" textLength="11.79" lengthAdjust="spacingAndGlyphs">100</text>
<text x="54.8" y="432.3" class="tl" textLength="7.86" lengthAdjust="spacingAndGlyphs">10</text>
<text transform="translate(95.9 438) rotate(-45)" class="cl">Ex Vivo</text>
<text transform="translate(167.4 438) rotate(-45)" class="cl">Post IVS</text>
<line x1="244.8" y1="389.04" x2="387" y2="389.04" stroke="#666" stroke-width="1" stroke-dasharray="1 1"/>
<line x1="244.8" y1="422.33" x2="387" y2="422.33" stroke="#b0b0b0" stroke-width="1.2" stroke-dasharray="1 1"/>
<path d="M243.8 333.65V429.5H387" fill="none" stroke="#1a1a1a" stroke-width="1.25"/>
<path d="M241.8 334.25H243.8M242.4 350.89H243.8M242.4 346.7H243.8M242.4 343.73H243.8M242.4 341.42H243.8M242.4 339.53H243.8M242.4 337.94H243.8M242.4 336.56H243.8M242.4 335.34H243.8M241.8 358.06H243.8M242.4 374.71H243.8M242.4 370.51H243.8M242.4 367.54H243.8M242.4 365.23H243.8M242.4 363.35H243.8M242.4 361.75H243.8M242.4 360.37H243.8M242.4 359.15H243.8M241.8 381.88H243.8M242.4 398.52H243.8M242.4 394.33H243.8M242.4 391.35H243.8M242.4 389.04H243.8M242.4 387.16H243.8M242.4 385.56H243.8M242.4 384.18H243.8M242.4 382.96H243.8M241.8 405.69H243.8M242.4 422.33H243.8M242.4 418.14H243.8M242.4 415.16H243.8M242.4 412.86H243.8M242.4 410.97H243.8M242.4 409.38H243.8M242.4 408H243.8M242.4 406.78H243.8M241.8 429.5H243.8" stroke="#111" stroke-width="0.9"/>
<path d="M280 429.5v2M351.6 429.5v2" stroke="#222" stroke-width="1"/>
<line x1="280" y1="429.5" x2="351.6" y2="405.5" stroke="#F6A8A4" stroke-width="1"/>
<line x1="280" y1="429.5" x2="351.6" y2="417.5" stroke="#F7941D" stroke-width="1"/>
<line x1="280" y1="429.5" x2="351.6" y2="416.75" stroke="#F03A22" stroke-width="1"/>
<line x1="280" y1="429.5" x2="351.6" y2="416" stroke="#F03A22" stroke-width="1"/>
<line x1="280" y1="429.5" x2="351.6" y2="422.4" stroke="#8E3C9E" stroke-width="1"/>
<line x1="280" y1="429.5" x2="351.6" y2="429.5" stroke="#1F5CE8" stroke-width="1.5"/>
<circle cx="351.6" cy="405.5" r="2.15" fill="#F6A8A4"/>
<circle cx="351.6" cy="417.5" r="2.15" fill="#F7941D"/>
<circle cx="351.6" cy="416.75" r="2.15" fill="#F03A22"/>
<circle cx="351.6" cy="416" r="2.15" fill="#F03A22"/>
<circle cx="351.6" cy="422.4" r="2.15" fill="#8E3C9E"/>
<circle cx="351.6" cy="429.5" r="2.15" fill="#1F5CE8"/>
<circle cx="280" cy="429.5" r="2.0" fill="#000"/>
<text x="240.5" y="337.05" class="tl" textLength="23.58" lengthAdjust="spacingAndGlyphs">100000</text>
<text x="240.5" y="360.86" class="tl" textLength="19.65" lengthAdjust="spacingAndGlyphs">10000</text>
<text x="240.5" y="384.68" class="tl" textLength="15.72" lengthAdjust="spacingAndGlyphs">1000</text>
<text x="240.5" y="408.49" class="tl" textLength="11.79" lengthAdjust="spacingAndGlyphs">100</text>
<text x="240.5" y="432.3" class="tl" textLength="7.86" lengthAdjust="spacingAndGlyphs">10</text>
<text transform="translate(281.6 438) rotate(-45)" class="cl">Ex Vivo</text>
<text transform="translate(353.2 438) rotate(-45)" class="cl">Post IVS</text>
<path d="M58.1 474.4V570.3H202" fill="none" stroke="#1a1a1a" stroke-width="1.25"/>
<path d="M56.1 475H58.1M56.7 491.65H58.1M56.7 487.46H58.1M56.7 484.48H58.1M56.7 482.17H58.1M56.7 480.29H58.1M56.7 478.69H58.1M56.7 477.31H58.1M56.7 476.09H58.1M56.1 498.82H58.1M56.7 515.48H58.1M56.7 511.28H58.1M56.7 508.31H58.1M56.7 506H58.1M56.7 504.11H58.1M56.7 502.52H58.1M56.7 501.13H58.1M56.7 499.92H58.1M56.1 522.65H58.1M56.7 539.3H58.1M56.7 535.11H58.1M56.7 532.13H58.1M56.7 529.82H58.1M56.7 527.94H58.1M56.7 526.34H58.1M56.7 524.96H58.1M56.7 523.74H58.1M56.1 546.47H58.1M56.7 563.13H58.1M56.7 558.93H58.1M56.7 555.96H58.1M56.7 553.65H58.1M56.7 551.76H58.1M56.7 550.17H58.1M56.7 548.78H58.1M56.7 547.57H58.1M56.1 570.3H58.1" stroke="#111" stroke-width="0.9"/>
<path d="M94.3 570.3v2M166 570.3v2" stroke="#222" stroke-width="1"/>
<line x1="94.3" y1="570.3" x2="166" y2="548.3" stroke="#F03A22" stroke-width="1"/>
<line x1="94.3" y1="570.3" x2="166" y2="549.2" stroke="#F03A22" stroke-width="1"/>
<line x1="94.3" y1="570.3" x2="166" y2="552.9" stroke="#F03A22" stroke-width="1"/>
<line x1="94.3" y1="570.3" x2="166" y2="553.75" stroke="#F03A22" stroke-width="1"/>
<line x1="94.3" y1="570.3" x2="166" y2="555.4" stroke="#F7941D" stroke-width="1"/>
<line x1="94.3" y1="570.3" x2="166" y2="555.6" stroke="#1EC62C" stroke-width="1"/>
<line x1="94.3" y1="570.3" x2="166" y2="559.6" stroke="#F6A8A4" stroke-width="1"/>
<line x1="94.3" y1="570.3" x2="166" y2="560.4" stroke="#F6A8A4" stroke-width="1"/>
<line x1="94.3" y1="570.3" x2="166" y2="570.3" stroke="#1EC62C" stroke-width="1.5"/>
<line x1="94.3" y1="570.3" x2="166" y2="531.7" stroke="#1F5CE8" stroke-width="1"/>
<line x1="94.3" y1="570.3" x2="166" y2="557.1" stroke="#1F5CE8" stroke-width="1"/>
<line x1="94.3" y1="570.3" x2="166" y2="563.3" stroke="#1F5CE8" stroke-width="1"/>
<circle cx="166" cy="548.3" r="2.15" fill="#F03A22"/>
<circle cx="166" cy="549.2" r="2.15" fill="#F03A22"/>
<circle cx="166" cy="552.9" r="2.15" fill="#F03A22"/>
<circle cx="166" cy="553.75" r="2.15" fill="#F03A22"/>
<circle cx="166" cy="555.4" r="2.15" fill="#F7941D"/>
<circle cx="166" cy="555.6" r="2.15" fill="#1EC62C"/>
<circle cx="166" cy="559.6" r="2.15" fill="#F6A8A4"/>
<circle cx="166" cy="560.4" r="2.15" fill="#F6A8A4"/>
<circle cx="166" cy="570.3" r="2.15" fill="#1EC62C"/>
<circle cx="166" cy="531.7" r="2.15" fill="#1F5CE8"/>
<circle cx="166" cy="557.1" r="2.15" fill="#1F5CE8"/>
<circle cx="166" cy="563.3" r="2.15" fill="#1F5CE8"/>
<circle cx="94.3" cy="570.3" r="2.0" fill="#000"/>
<text x="54.8" y="477.8" class="tl" textLength="11.79" lengthAdjust="spacingAndGlyphs">100</text>
<text x="54.8" y="501.62" class="tl" textLength="7.86" lengthAdjust="spacingAndGlyphs">10</text>
<text x="54.8" y="525.45" class="tl" textLength="3.93" lengthAdjust="spacingAndGlyphs">1</text>
<text x="54.8" y="549.27" class="tl" textLength="13.76" lengthAdjust="spacingAndGlyphs">0.10</text>
<text x="54.8" y="573.1" class="tl" textLength="13.76" lengthAdjust="spacingAndGlyphs">0.01</text>
<text transform="translate(95.9 578.8) rotate(-45)" class="cl">Ex Vivo</text>
<text transform="translate(167.6 578.8) rotate(-45)" class="cl">Post IVS</text>
<path d="M244.3 473.9V569.5H387.5" fill="none" stroke="#1a1a1a" stroke-width="1.25"/>
<path d="M242.3 474.5H244.3M242.9 491.1H244.3M242.9 486.92H244.3M242.9 483.95H244.3M242.9 481.65H244.3M242.9 479.77H244.3M242.9 478.18H244.3M242.9 476.8H244.3M242.9 475.59H244.3M242.3 498.25H244.3M242.9 514.85H244.3M242.9 510.67H244.3M242.9 507.7H244.3M242.9 505.4H244.3M242.9 503.52H244.3M242.9 501.93H244.3M242.9 500.55H244.3M242.9 499.34H244.3M242.3 522H244.3M242.9 538.6H244.3M242.9 534.42H244.3M242.9 531.45H244.3M242.9 529.15H244.3M242.9 527.27H244.3M242.9 525.68H244.3M242.9 524.3H244.3M242.9 523.09H244.3M242.3 545.75H244.3M242.9 562.35H244.3M242.9 558.17H244.3M242.9 555.2H244.3M242.9 552.9H244.3M242.9 551.02H244.3M242.9 549.43H244.3M242.9 548.05H244.3M242.9 546.84H244.3M242.3 569.5H244.3" stroke="#111" stroke-width="0.9"/>
<path d="M280.5 569.5v2M352 569.5v2" stroke="#222" stroke-width="1"/>
<line x1="280.5" y1="569.5" x2="352" y2="534.2" stroke="#F7941D" stroke-width="1"/>
<line x1="280.5" y1="569.5" x2="352" y2="537.9" stroke="#1EC62C" stroke-width="1"/>
<line x1="280.5" y1="569.5" x2="352" y2="539.6" stroke="#1EC62C" stroke-width="1"/>
<line x1="280.5" y1="569.5" x2="352" y2="540.8" stroke="#2A9D8F" stroke-width="1"/>
<line x1="280.5" y1="569.5" x2="352" y2="542.5" stroke="#F03A22" stroke-width="1"/>
<line x1="280.5" y1="569.5" x2="352" y2="543.4" stroke="#A8402C" stroke-width="1"/>
<line x1="280.5" y1="569.5" x2="352" y2="544.2" stroke="#F03A22" stroke-width="1"/>
<line x1="280.5" y1="569.5" x2="352" y2="545.4" stroke="#F7941D" stroke-width="1"/>
<line x1="280.5" y1="569.5" x2="352" y2="546.7" stroke="#F03A22" stroke-width="1"/>
<line x1="280.5" y1="569.5" x2="352" y2="547.5" stroke="#666" stroke-width="1"/>
<line x1="280.5" y1="569.5" x2="352" y2="548.75" stroke="#1EC62C" stroke-width="1"/>
<line x1="280.5" y1="569.5" x2="352" y2="549.5" stroke="#8E3C9E" stroke-width="1"/>
<line x1="280.5" y1="569.5" x2="352" y2="550" stroke="#F03A22" stroke-width="1"/>
<line x1="280.5" y1="569.5" x2="352" y2="552.5" stroke="#F6A8A4" stroke-width="1"/>
<line x1="280.5" y1="569.5" x2="352" y2="554.2" stroke="#F6A8A4" stroke-width="1"/>
<line x1="280.5" y1="569.5" x2="352" y2="562.1" stroke="#F6A8A4" stroke-width="1"/>
<line x1="280.5" y1="569.5" x2="352" y2="535.4" stroke="#1F5CE8" stroke-width="1"/>
<line x1="280.5" y1="569.5" x2="352" y2="537.1" stroke="#1F5CE8" stroke-width="1"/>
<line x1="280.5" y1="569.5" x2="352" y2="538.75" stroke="#1F5CE8" stroke-width="1"/>
<circle cx="352" cy="534.2" r="2.15" fill="#F7941D"/>
<circle cx="352" cy="537.9" r="2.15" fill="#1EC62C"/>
<circle cx="352" cy="539.6" r="2.15" fill="#1EC62C"/>
<circle cx="352" cy="540.8" r="2.15" fill="#2A9D8F"/>
<circle cx="352" cy="542.5" r="2.15" fill="#F03A22"/>
<circle cx="352" cy="543.4" r="2.15" fill="#A8402C"/>
<circle cx="352" cy="544.2" r="2.15" fill="#F03A22"/>
<circle cx="352" cy="545.4" r="2.15" fill="#F7941D"/>
<circle cx="352" cy="546.7" r="2.15" fill="#F03A22"/>
<circle cx="352" cy="547.5" r="2.15" fill="#666"/>
<circle cx="352" cy="548.75" r="2.15" fill="#1EC62C"/>
<circle cx="352" cy="549.5" r="2.15" fill="#8E3C9E"/>
<circle cx="352" cy="550" r="2.15" fill="#F03A22"/>
<circle cx="352" cy="552.5" r="2.15" fill="#F6A8A4"/>
<circle cx="352" cy="554.2" r="2.15" fill="#F6A8A4"/>
<circle cx="352" cy="562.1" r="2.15" fill="#F6A8A4"/>
<circle cx="352" cy="535.4" r="2.15" fill="#1F5CE8"/>
<circle cx="352" cy="537.1" r="2.15" fill="#1F5CE8"/>
<circle cx="352" cy="538.75" r="2.15" fill="#1F5CE8"/>
<circle cx="280.5" cy="569.5" r="2.0" fill="#000"/>
<text x="241" y="477.3" class="tl" textLength="11.79" lengthAdjust="spacingAndGlyphs">100</text>
<text x="241" y="501.05" class="tl" textLength="7.86" lengthAdjust="spacingAndGlyphs">10</text>
<text x="241" y="524.8" class="tl" textLength="3.93" lengthAdjust="spacingAndGlyphs">1</text>
<text x="241" y="548.55" class="tl" textLength="13.76" lengthAdjust="spacingAndGlyphs">0.10</text>
<text x="241" y="572.3" class="tl" textLength="13.76" lengthAdjust="spacingAndGlyphs">0.01</text>
<text transform="translate(282.1 578) rotate(-45)" class="cl">Ex Vivo</text>
<text transform="translate(353.6 578) rotate(-45)" class="cl">Post IVS</text>
<line x1="480.3" y1="388.83" x2="622.5" y2="388.83" stroke="#666" stroke-width="1" stroke-dasharray="1 1"/>
<line x1="480.3" y1="422.29" x2="622.5" y2="422.29" stroke="#b0b0b0" stroke-width="1.2" stroke-dasharray="1 1"/>
<path d="M479.3 333.15V429.5H622.5" fill="none" stroke="#1a1a1a" stroke-width="1.25"/>
<path d="M477.3 333.75H479.3M477.9 350.48H479.3M477.9 346.27H479.3M477.9 343.28H479.3M477.9 340.96H479.3M477.9 339.06H479.3M477.9 337.46H479.3M477.9 336.07H479.3M477.9 334.85H479.3M477.3 357.69H479.3M477.9 374.42H479.3M477.9 370.2H479.3M477.9 367.21H479.3M477.9 364.89H479.3M477.9 363H479.3M477.9 361.4H479.3M477.9 360.01H479.3M477.9 358.78H479.3M477.3 381.62H479.3M477.9 398.36H479.3M477.9 394.14H479.3M477.9 391.15H479.3M477.9 388.83H479.3M477.9 386.94H479.3M477.9 385.33H479.3M477.9 383.94H479.3M477.9 382.72H479.3M477.3 405.56H479.3M477.9 422.29H479.3M477.9 418.08H479.3M477.9 415.09H479.3M477.9 412.77H479.3M477.9 410.87H479.3M477.9 409.27H479.3M477.9 407.88H479.3M477.9 406.66H479.3M477.3 429.5H479.3" stroke="#111" stroke-width="0.9"/>
<path d="M515 429.5v2M586.6 429.5v2" stroke="#222" stroke-width="1"/>
<line x1="515" y1="429.5" x2="586.6" y2="422.3" stroke="#1EC62C" stroke-width="1"/>
<line x1="515" y1="429.5" x2="586.6" y2="423" stroke="#1EC62C" stroke-width="1"/>
<line x1="515" y1="429.5" x2="586.6" y2="425" stroke="#F7941D" stroke-width="1"/>
<line x1="515" y1="429.5" x2="586.6" y2="426" stroke="#F8AE5E" stroke-width="1"/>
<line x1="515" y1="429.5" x2="586.6" y2="427" stroke="#F7941D" stroke-width="1"/>
<line x1="515" y1="429.5" x2="586.6" y2="419.2" stroke="#1F5CE8" stroke-width="1"/>
<line x1="515" y1="429.5" x2="586.6" y2="429.4" stroke="#1F5CE8" stroke-width="1.5"/>
<circle cx="586.6" cy="422.3" r="2.15" fill="#1EC62C"/>
<circle cx="586.6" cy="423" r="2.15" fill="#1EC62C"/>
<circle cx="586.6" cy="425" r="2.15" fill="#F7941D"/>
<circle cx="586.6" cy="426" r="2.15" fill="#F8AE5E"/>
<circle cx="586.6" cy="427" r="2.15" fill="#F7941D"/>
<circle cx="586.6" cy="419.2" r="2.15" fill="#1F5CE8"/>
<circle cx="586.6" cy="429.4" r="2.15" fill="#1F5CE8"/>
<circle cx="515" cy="429.5" r="2.0" fill="#000"/>
<text x="476" y="336.55" class="tl" textLength="23.58" lengthAdjust="spacingAndGlyphs">100000</text>
<text x="476" y="360.49" class="tl" textLength="19.65" lengthAdjust="spacingAndGlyphs">10000</text>
<text x="476" y="384.43" class="tl" textLength="15.72" lengthAdjust="spacingAndGlyphs">1000</text>
<text x="476" y="408.36" class="tl" textLength="11.79" lengthAdjust="spacingAndGlyphs">100</text>
<text x="476" y="432.3" class="tl" textLength="7.86" lengthAdjust="spacingAndGlyphs">10</text>
<text transform="translate(516.6 438) rotate(-45)" class="cl">Ex Vivo</text>
<text transform="translate(588.2 438) rotate(-45)" class="cl">Post IVS</text>
<line x1="668.3" y1="388.72" x2="810.5" y2="388.72" stroke="#666" stroke-width="1" stroke-dasharray="1 1"/>
<line x1="668.3" y1="422.11" x2="810.5" y2="422.11" stroke="#b0b0b0" stroke-width="1.2" stroke-dasharray="1 1"/>
<path d="M667.3 333.15V429.3H810.5" fill="none" stroke="#1a1a1a" stroke-width="1.25"/>
<path d="M665.3 333.75H667.3M665.9 350.45H667.3M665.9 346.24H667.3M665.9 343.26H667.3M665.9 340.94H667.3M665.9 339.05H667.3M665.9 337.45H667.3M665.9 336.06H667.3M665.9 334.84H667.3M665.3 357.64H667.3M665.9 374.33H667.3M665.9 370.13H667.3M665.9 367.14H667.3M665.9 364.83H667.3M665.9 362.94H667.3M665.9 361.34H667.3M665.9 359.95H667.3M665.9 358.73H667.3M665.3 381.52H667.3M665.9 398.22H667.3M665.9 394.02H667.3M665.9 391.03H667.3M665.9 388.72H667.3M665.9 386.82H667.3M665.9 385.23H667.3M665.9 383.84H667.3M665.9 382.62H667.3M665.3 405.41H667.3M665.9 422.11H667.3M665.9 417.9H667.3M665.9 414.92H667.3M665.9 412.6H667.3M665.9 410.71H667.3M665.9 409.11H667.3M665.9 407.73H667.3M665.9 406.51H667.3M665.3 429.3H667.3" stroke="#111" stroke-width="0.9"/>
<path d="M703.5 429.3v2M775.5 429.3v2" stroke="#222" stroke-width="1"/>
<line x1="703.5" y1="429.3" x2="775.5" y2="420.75" stroke="#1EC62C" stroke-width="1"/>
<line x1="703.5" y1="429.3" x2="775.5" y2="429.3" stroke="#1F5CE8" stroke-width="1.5"/>
<circle cx="775.5" cy="420.75" r="2.15" fill="#1EC62C"/>
<circle cx="775.5" cy="429.3" r="2.15" fill="#1F5CE8"/>
<circle cx="703.5" cy="429.3" r="2.0" fill="#000"/>
<text x="664" y="336.55" class="tl" textLength="23.58" lengthAdjust="spacingAndGlyphs">100000</text>
<text x="664" y="360.44" class="tl" textLength="19.65" lengthAdjust="spacingAndGlyphs">10000</text>
<text x="664" y="384.32" class="tl" textLength="15.72" lengthAdjust="spacingAndGlyphs">1000</text>
<text x="664" y="408.21" class="tl" textLength="11.79" lengthAdjust="spacingAndGlyphs">100</text>
<text x="664" y="432.1" class="tl" textLength="7.86" lengthAdjust="spacingAndGlyphs">10</text>
<text transform="translate(705.1 437.8) rotate(-45)" class="cl">Ex Vivo</text>
<text transform="translate(777.1 437.8) rotate(-45)" class="cl">Post IVS</text>
<path d="M478.3 474.4V570.3H621.8" fill="none" stroke="#1a1a1a" stroke-width="1.25"/>
<path d="M476.3 475H478.3M476.9 491.65H478.3M476.9 487.46H478.3M476.9 484.48H478.3M476.9 482.17H478.3M476.9 480.29H478.3M476.9 478.69H478.3M476.9 477.31H478.3M476.9 476.09H478.3M476.3 498.82H478.3M476.9 515.48H478.3M476.9 511.28H478.3M476.9 508.31H478.3M476.9 506H478.3M476.9 504.11H478.3M476.9 502.52H478.3M476.9 501.13H478.3M476.9 499.92H478.3M476.3 522.65H478.3M476.9 539.3H478.3M476.9 535.11H478.3M476.9 532.13H478.3M476.9 529.82H478.3M476.9 527.94H478.3M476.9 526.34H478.3M476.9 524.96H478.3M476.9 523.74H478.3M476.3 546.47H478.3M476.9 563.13H478.3M476.9 558.93H478.3M476.9 555.96H478.3M476.9 553.65H478.3M476.9 551.76H478.3M476.9 550.17H478.3M476.9 548.78H478.3M476.9 547.57H478.3M476.3 570.3H478.3" stroke="#111" stroke-width="0.9"/>
<path d="M514.3 570.3v2M585.7 570.3v2" stroke="#222" stroke-width="1"/>
<line x1="514.3" y1="570.3" x2="585.7" y2="550.4" stroke="#F03A22" stroke-width="1"/>
<line x1="514.3" y1="570.3" x2="585.7" y2="561.25" stroke="#1EC62C" stroke-width="1"/>
<line x1="514.3" y1="570.3" x2="585.7" y2="563.75" stroke="#F6A8A4" stroke-width="1"/>
<line x1="514.3" y1="570.3" x2="585.7" y2="566.7" stroke="#1EC62C" stroke-width="1"/>
<line x1="514.3" y1="570.3" x2="585.7" y2="570.3" stroke="#1EC62C" stroke-width="1.5"/>
<line x1="514.3" y1="570.3" x2="585.7" y2="534.8" stroke="#1F5CE8" stroke-width="1"/>
<line x1="514.3" y1="570.3" x2="585.7" y2="551.8" stroke="#1F5CE8" stroke-width="1"/>
<line x1="514.3" y1="570.3" x2="585.7" y2="566.25" stroke="#1F5CE8" stroke-width="1"/>
<circle cx="585.7" cy="550.4" r="2.15" fill="#F03A22"/>
<circle cx="585.7" cy="561.25" r="2.15" fill="#1EC62C"/>
<circle cx="585.7" cy="563.75" r="2.15" fill="#F6A8A4"/>
<circle cx="585.7" cy="566.7" r="2.15" fill="#1EC62C"/>
<circle cx="585.7" cy="570.3" r="2.15" fill="#1EC62C"/>
<circle cx="585.7" cy="534.8" r="2.15" fill="#1F5CE8"/>
<circle cx="585.7" cy="551.8" r="2.15" fill="#1F5CE8"/>
<circle cx="585.7" cy="566.25" r="2.15" fill="#1F5CE8"/>
<circle cx="514.3" cy="570.3" r="2.0" fill="#000"/>
<text x="475" y="477.8" class="tl" textLength="11.79" lengthAdjust="spacingAndGlyphs">100</text>
<text x="475" y="501.62" class="tl" textLength="7.86" lengthAdjust="spacingAndGlyphs">10</text>
<text x="475" y="525.45" class="tl" textLength="3.93" lengthAdjust="spacingAndGlyphs">1</text>
<text x="475" y="549.27" class="tl" textLength="13.76" lengthAdjust="spacingAndGlyphs">0.10</text>
<text x="475" y="573.1" class="tl" textLength="13.76" lengthAdjust="spacingAndGlyphs">0.01</text>
<text transform="translate(515.9 578.8) rotate(-45)" class="cl">Ex Vivo</text>
<text transform="translate(587.3 578.8) rotate(-45)" class="cl">Post IVS</text>
<path d="M666.8 473.65V569.5H810.5" fill="none" stroke="#1a1a1a" stroke-width="1.25"/>
<path d="M664.8 474.25H666.8M665.4 490.89H666.8M665.4 486.7H666.8M665.4 483.73H666.8M665.4 481.42H666.8M665.4 479.53H666.8M665.4 477.94H666.8M665.4 476.56H666.8M665.4 475.34H666.8M664.8 498.06H666.8M665.4 514.71H666.8M665.4 510.51H666.8M665.4 507.54H666.8M665.4 505.23H666.8M665.4 503.35H666.8M665.4 501.75H666.8M665.4 500.37H666.8M665.4 499.15H666.8M664.8 521.88H666.8M665.4 538.52H666.8M665.4 534.33H666.8M665.4 531.35H666.8M665.4 529.04H666.8M665.4 527.16H666.8M665.4 525.56H666.8M665.4 524.18H666.8M665.4 522.96H666.8M664.8 545.69H666.8M665.4 562.33H666.8M665.4 558.14H666.8M665.4 555.16H666.8M665.4 552.86H666.8M665.4 550.97H666.8M665.4 549.38H666.8M665.4 548H666.8M665.4 546.78H666.8M664.8 569.5H666.8" stroke="#111" stroke-width="0.9"/>
<path d="M703.5 569.5v2M775.2 569.5v2" stroke="#222" stroke-width="1"/>
<line x1="703.5" y1="569.5" x2="775.2" y2="536.25" stroke="#F7941D" stroke-width="1"/>
<line x1="703.5" y1="569.5" x2="775.2" y2="545.7" stroke="#F03A22" stroke-width="1"/>
<line x1="703.5" y1="569.5" x2="775.2" y2="550" stroke="#F03A22" stroke-width="1"/>
<line x1="703.5" y1="569.5" x2="775.2" y2="553.75" stroke="#1EC62C" stroke-width="1"/>
<line x1="703.5" y1="569.5" x2="775.2" y2="555" stroke="#F03A22" stroke-width="1"/>
<line x1="703.5" y1="569.5" x2="775.2" y2="560.8" stroke="#F6A8A4" stroke-width="1"/>
<line x1="703.5" y1="569.5" x2="775.2" y2="565.8" stroke="#F6A8A4" stroke-width="1"/>
<line x1="703.5" y1="569.5" x2="775.2" y2="567" stroke="#F6A8A4" stroke-width="1"/>
<line x1="703.5" y1="569.5" x2="775.2" y2="569.5" stroke="#1EC62C" stroke-width="1.5"/>
<line x1="703.5" y1="569.5" x2="775.2" y2="542.5" stroke="#1F5CE8" stroke-width="1"/>
<line x1="703.5" y1="569.5" x2="775.2" y2="558.3" stroke="#1F5CE8" stroke-width="1"/>
<line x1="703.5" y1="569.5" x2="775.2" y2="563.75" stroke="#1F5CE8" stroke-width="1"/>
<circle cx="775.2" cy="536.25" r="2.15" fill="#F7941D"/>
<circle cx="775.2" cy="545.7" r="2.15" fill="#F03A22"/>
<circle cx="775.2" cy="550" r="2.15" fill="#F03A22"/>
<circle cx="775.2" cy="553.75" r="2.15" fill="#1EC62C"/>
<circle cx="775.2" cy="555" r="2.15" fill="#F03A22"/>
<circle cx="775.2" cy="560.8" r="2.15" fill="#F6A8A4"/>
<circle cx="775.2" cy="565.8" r="2.15" fill="#F6A8A4"/>
<circle cx="775.2" cy="567" r="2.15" fill="#F6A8A4"/>
<circle cx="775.2" cy="569.5" r="2.15" fill="#1EC62C"/>
<circle cx="775.2" cy="542.5" r="2.15" fill="#1F5CE8"/>
<circle cx="775.2" cy="558.3" r="2.15" fill="#1F5CE8"/>
<circle cx="775.2" cy="563.75" r="2.15" fill="#1F5CE8"/>
<circle cx="703.5" cy="569.5" r="2.0" fill="#000"/>
<text x="663.5" y="477.05" class="tl" textLength="11.79" lengthAdjust="spacingAndGlyphs">100</text>
<text x="663.5" y="500.86" class="tl" textLength="7.86" lengthAdjust="spacingAndGlyphs">10</text>
<text x="663.5" y="524.67" class="tl" textLength="3.93" lengthAdjust="spacingAndGlyphs">1</text>
<text x="663.5" y="548.49" class="tl" textLength="13.76" lengthAdjust="spacingAndGlyphs">0.10</text>
<text x="663.5" y="572.3" class="tl" textLength="13.76" lengthAdjust="spacingAndGlyphs">0.01</text>
<text transform="translate(705.1 578) rotate(-45)" class="cl">Ex Vivo</text>
<text transform="translate(776.8 578) rotate(-45)" class="cl">Post IVS</text>
<text transform="translate(28.4 78.2) rotate(-90)" class="yl" textLength="78.5" lengthAdjust="spacingAndGlyphs">SFC per million PBMC</text>
<text transform="translate(29.4 221.2) rotate(-90)" class="yl" textLength="100" lengthAdjust="spacingAndGlyphs">CD8<tspan dy="-2.5" font-size="5.5">+</tspan><tspan dy="2.5"> Multimer</tspan><tspan dy="-2.5" font-size="5.5">+</tspan><tspan dy="2.5"> (% of CD8</tspan><tspan dy="-2.5" font-size="5.5">+</tspan><tspan dy="2.5">)</tspan></text>
<text transform="translate(447.6 78.1) rotate(-90)" class="yl" textLength="78.8" lengthAdjust="spacingAndGlyphs">SFC per million PBMC</text>
<text transform="translate(448.6 222.2) rotate(-90)" class="yl" textLength="100.5" lengthAdjust="spacingAndGlyphs">CD8<tspan dy="-2.5" font-size="5.5">+</tspan><tspan dy="2.5"> Multimer</tspan><tspan dy="-2.5" font-size="5.5">+</tspan><tspan dy="2.5"> (% of CD8</tspan><tspan dy="-2.5" font-size="5.5">+</tspan><tspan dy="2.5">)</tspan></text>
<text transform="translate(28.2 374.4) rotate(-90)" class="yl" textLength="78.8" lengthAdjust="spacingAndGlyphs">SFC per million PBMC</text>
<text transform="translate(28.4 515.9) rotate(-90)" class="yl" textLength="100.8" lengthAdjust="spacingAndGlyphs">CD8<tspan dy="-2.5" font-size="5.5">+</tspan><tspan dy="2.5"> Multimer</tspan><tspan dy="-2.5" font-size="5.5">+</tspan><tspan dy="2.5"> (% of CD8</tspan><tspan dy="-2.5" font-size="5.5">+</tspan><tspan dy="2.5">)</tspan></text>
<text transform="translate(445.6 374.8) rotate(-90)" class="yl" textLength="79.5" lengthAdjust="spacingAndGlyphs">SFC per million PBMC</text>
<text transform="translate(448.2 516.3) rotate(-90)" class="yl" textLength="100" lengthAdjust="spacingAndGlyphs">CD8<tspan dy="-2.5" font-size="5.5">+</tspan><tspan dy="2.5"> Multimer</tspan><tspan dy="-2.5" font-size="5.5">+</tspan><tspan dy="2.5"> (% of CD8</tspan><tspan dy="-2.5" font-size="5.5">+</tspan><tspan dy="2.5">)</tspan></text>
<path d="M58.8 20.7V12.1H200.5V20.7" fill="none" stroke="#222" stroke-width="1.3"/>
<path d="M245.2 20.7V12.1H387.2V20.7" fill="none" stroke="#222" stroke-width="1.3"/>
<path d="M477.2 20.7V12.1H619V20.7" fill="none" stroke="#222" stroke-width="1.3"/>
<path d="M668.6 20.7V12.1H811V20.7" fill="none" stroke="#222" stroke-width="1.3"/>
<text x="128.1" y="7.0" class="hd" textLength="33.4" lengthAdjust="spacingAndGlyphs">Donor 4</text>
<text x="314.4" y="7.0" class="hd" textLength="34" lengthAdjust="spacingAndGlyphs">Donor 5</text>
<text x="546.2" y="7.0" class="hd" textLength="33.4" lengthAdjust="spacingAndGlyphs">Donor 4</text>
<text x="738.1" y="7.0" class="hd" textLength="33.4" lengthAdjust="spacingAndGlyphs">Donor 5</text>
<text x="0.2" y="10.7" class="pl">a</text>
<text x="416.2" y="13.8" class="pl">b</text>
<text x="0.2" y="338.2" class="pl">c</text>
<text x="416.6" y="341.2" class="pl">d</text>
<text transform="translate(9.5 144) rotate(-90)" class="rl" textLength="62.4" lengthAdjust="spacingAndGlyphs">EBV-specific</text>
<text transform="translate(427.8 142.2) rotate(-90)" class="rl" textLength="62" lengthAdjust="spacingAndGlyphs">FLU-specific</text>
<text transform="translate(10.4 439.7) rotate(-90)" class="rl" textLength="63.7" lengthAdjust="spacingAndGlyphs">WT1-specific</text>
<text transform="translate(427.8 439.4) rotate(-90)" class="rl" textLength="58.2" lengthAdjust="spacingAndGlyphs">HIV-specific</text>
</svg></body></html>
